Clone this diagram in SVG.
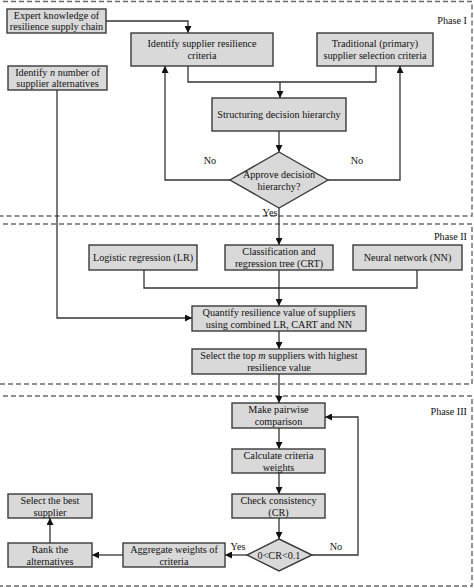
<svg xmlns="http://www.w3.org/2000/svg" width="474" height="588" viewBox="0 0 474 588">
<defs>
<marker id="ah" viewBox="0 0 10 10" refX="10" refY="5" markerWidth="7" markerHeight="7" markerUnits="userSpaceOnUse" orient="auto">
<path d="M0,0 L10,5 L0,10 z" fill="#111"/>
</marker>
</defs>
<style>
.ph{fill:none;stroke:#6a6a6a;stroke-width:1.4;stroke-dasharray:5,3}
.b{fill:#d9d9d9;stroke:#3a3a3a;stroke-width:1.4}
.t{font-family:"Liberation Serif","Times New Roman",serif;font-size:10.2px;fill:#111;text-anchor:middle}
.lb{font-family:"Liberation Serif","Times New Roman",serif;font-size:10.2px;fill:#111}
.c{fill:none;stroke:#333;stroke-width:1.3}
.a{marker-end:url(#ah)}
</style>
<rect width="474" height="588" fill="#fff"/>
<g id="phases">
<rect class="ph" x="-5" y="1.5" width="477" height="214.5"/>
<rect class="ph" x="-5" y="224" width="477" height="160"/>
<rect class="ph" x="-5" y="396" width="477" height="190"/>
<text class="lb" x="467" y="24" text-anchor="end">Phase I</text>
<text class="lb" x="467" y="240" text-anchor="end">Phase II</text>
<text class="lb" x="467" y="415" text-anchor="end">Phase III</text>
</g>
<g id="connectors">
<polyline class="c a" points="106,21 188,21 188,33"/>
<polyline class="c" points="188,66 188,82 376,82 376,66"/>
<line class="c a" x1="280" y1="82" x2="280" y2="98"/>
<line class="c a" x1="279" y1="131" x2="279" y2="152"/>
<polyline class="c a" points="230,180 165,180 165,66"/>
<polyline class="c a" points="328,180 400,180 400,66"/>
<line class="c a" x1="279" y1="208" x2="279" y2="245"/>
<polyline class="c a" points="57,90 57,318 192,318"/>
<polyline class="c" points="144,270 144,288 417,288 417,270"/>
<line class="c a" x1="279" y1="270" x2="279" y2="306"/>
<line class="c a" x1="279" y1="331" x2="279" y2="349"/>
<line class="c a" x1="279" y1="374" x2="279" y2="403"/>
<line class="c a" x1="279" y1="428" x2="279" y2="449"/>
<line class="c a" x1="279" y1="473" x2="279" y2="494"/>
<line class="c a" x1="279" y1="518" x2="279" y2="539"/>
<polyline class="c a" points="312,555 358,555 358,417 325,417"/>
<line class="c a" x1="247" y1="555" x2="225" y2="555"/>
<line class="c a" x1="123" y1="555" x2="92" y2="555"/>
<line class="c a" x1="50" y1="543" x2="50" y2="518"/>
<text class="lb" x="210" y="164" text-anchor="middle">No</text>
<text class="lb" x="357" y="164" text-anchor="middle">No</text>
<text class="lb" x="270" y="216" text-anchor="middle">Yes</text>
<text class="lb" x="238" y="550" text-anchor="middle">Yes</text>
<text class="lb" x="336" y="550" text-anchor="middle">No</text>
</g>
<g id="expert"><rect class="b" x="7" y="9" width="99" height="24"/><text class="t" x="56.5" y="19">Expert knowledge of</text><text class="t" x="56.5" y="30">resilience supply chain</text></g>
<g id="identify-criteria"><rect class="b" x="131" y="33" width="142" height="33"/><text class="t" x="202" y="47">Identify supplier resilience</text><text class="t" x="202" y="59">criteria</text></g>
<g id="traditional"><rect class="b" x="317" y="33" width="116" height="33"/><text class="t" x="375" y="47">Traditional (primary)</text><text class="t" x="375" y="59">supplier selection criteria</text></g>
<g id="identify-n"><rect class="b" x="8" y="66" width="99" height="24"/><text class="t" x="57.5" y="76">Identify <tspan font-style="italic">n</tspan> number of</text><text class="t" x="57.5" y="87">supplier alternatives</text></g>
<g id="structuring"><rect class="b" x="212" y="98" width="134" height="33"/><text class="t" x="279" y="118">Structuring decision hierarchy</text></g>
<g id="approve"><polygon class="b" points="279,152 328,180 279,208 230,180"/><text class="t" x="279" y="178">Approve decision</text><text class="t" x="279" y="190">hierarchy?</text></g>
<g id="lr"><rect class="b" x="89" y="245" width="108" height="25"/><text class="t" x="143" y="261">Logistic regression (LR)</text></g>
<g id="crt"><rect class="b" x="225" y="245" width="108" height="25"/><text class="t" x="279" y="255">Classification and</text><text class="t" x="279" y="267">regression tree (CRT)</text></g>
<g id="nn"><rect class="b" x="353" y="245" width="109" height="25"/><text class="t" x="407.5" y="261">Neural network (NN)</text></g>
<g id="quantify"><rect class="b" x="192" y="306" width="174" height="25"/><text class="t" x="279" y="316">Quantify resilience value of suppliers</text><text class="t" x="279" y="328">using combined LR, CART and NN</text></g>
<g id="select-top"><rect class="b" x="192" y="349" width="174" height="25"/><text class="t" x="279" y="359">Select the top <tspan font-style="italic">m</tspan> suppliers with highest</text><text class="t" x="279" y="371">resilience value</text></g>
<g id="pairwise"><rect class="b" x="232" y="403" width="93" height="25"/><text class="t" x="278.5" y="413">Make pairwise</text><text class="t" x="278.5" y="425">comparison</text></g>
<g id="weights"><rect class="b" x="232" y="449" width="93" height="24"/><text class="t" x="278.5" y="459">Calculate criteria</text><text class="t" x="278.5" y="471">weights</text></g>
<g id="consistency"><rect class="b" x="232" y="494" width="93" height="24"/><text class="t" x="278.5" y="504">Check consistency</text><text class="t" x="278.5" y="516">(CR)</text></g>
<g id="cr"><polygon class="b" points="279,539 312,555 279,571 247,555"/><text class="t" x="279" y="559">0&lt;CR&lt;0.1</text></g>
<g id="aggregate"><rect class="b" x="123" y="543" width="102" height="24"/><text class="t" x="174" y="553">Aggregate weights of</text><text class="t" x="174" y="565">criteria</text></g>
<g id="rank"><rect class="b" x="8" y="543" width="84" height="24"/><text class="t" x="50" y="553">Rank the</text><text class="t" x="50" y="565">alternatives</text></g>
<g id="best"><rect class="b" x="8" y="494" width="84" height="24"/><text class="t" x="50" y="504">Select the best</text><text class="t" x="50" y="516">supplier</text></g>
</svg>
